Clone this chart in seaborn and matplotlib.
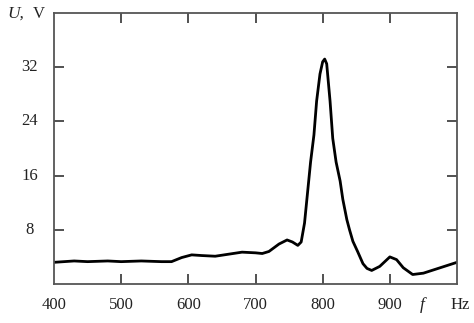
import matplotlib
matplotlib.use("Agg")
import matplotlib.pyplot as plt
import seaborn as sns
import pandas as pd

freq = [400, 430, 450, 480, 500, 530, 560, 575, 590, 605, 620, 640, 660, 680, 700, 710,
        720, 735, 747, 755, 763, 768, 773, 778, 782, 787, 791, 796, 800, 803, 806, 811,
        815, 820, 826, 830, 836, 840, 845, 852, 860, 866, 873, 885, 900, 910, 920, 934,
        950, 975, 1000]
voltage = [3.2, 3.4, 3.3, 3.4, 3.3, 3.4, 3.3, 3.3, 3.9, 4.3, 4.2, 4.1, 4.4, 4.7, 4.6, 4.5,
           4.8, 5.9, 6.5, 6.2, 5.7, 6.2, 9.0, 14.0, 18.0, 22.0, 27.0, 31.0, 32.8, 33.2, 32.5, 27.0,
           21.5, 18.0, 15.2, 12.5, 9.5, 8.0, 6.3, 4.8, 3.0, 2.3, 2.0, 2.6, 4.0, 3.6, 2.4, 1.4,
           1.6, 2.4, 3.2]
x_ticks = [500, 600, 700, 800, 900]
x_labels = ["500", "600", "700", "800", "900"]
y_ticks = [8, 16, 24, 32]
y_labels = ["8", "16", "24", "32"]

df = pd.DataFrame({"f": freq, "U": voltage})

sns.set_style("white")
plt.rcParams['font.family'] = ['Liberation Serif', 'DejaVu Serif']

fig = plt.figure(figsize=(4.74, 3.23), dpi=100)
ax = fig.add_axes([54/474, 1 - 284/323, (457-54)/474, (284-13)/323])
sns.lineplot(data=df, x="f", y="U", ax=ax, color="black", linewidth=2.0, sort=False)

ax.set_xlim(400, 1000)
ax.set_ylim(0, 40)
ax.set_xticks(x_ticks)
ax.set_xticklabels([])
ax.set_yticks(y_ticks)
ax.set_yticklabels([])
ax.tick_params(direction="in", length=7, width=1.2, color="#333333",
               top=True, right=True, bottom=True, left=True)
for s in ax.spines.values():
    s.set_color("#555555")
    s.set_linewidth(1.3)
    s.set_visible(True)
ax.set_xlabel("")
ax.set_ylabel("")

# tick labels as text
for t, lab in zip([400] + x_ticks, ["400"] + x_labels):
    ax.text(t, -3.1, lab, ha="center", va="center", fontsize=12, color="#222222")
for t, lab in zip(y_ticks, y_labels):
    ax.text(364, t, lab, ha="center", va="center", fontsize=12, color="#222222")
ax.text(948, -3.1, "f", ha="center", va="center", fontsize=12.5, style="italic", color="#222222")
ax.text(1005, -3.1, "Hz", ha="center", va="center", fontsize=12, color="#222222")
fig.text(16/474, 1 - 14/323, "U,", ha="center", va="center", fontsize=12.5, style="italic", color="#222222")
fig.text(39/474, 1 - 14/323, "V", ha="center", va="center", fontsize=12, color="#222222")

fig.savefig("out.png", dpi=100)
